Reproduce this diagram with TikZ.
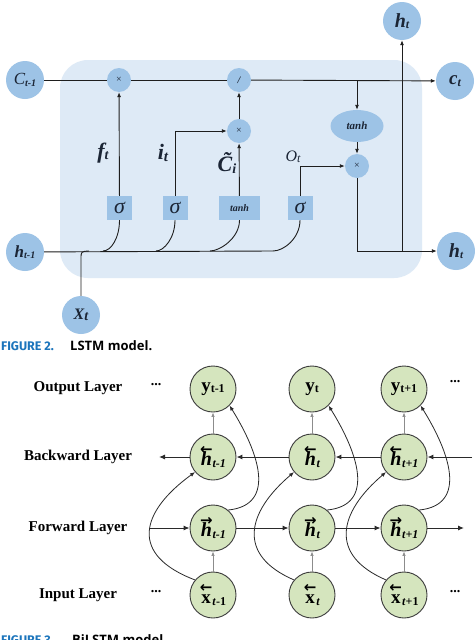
\documentclass[tikz,border=0pt]{standalone}
\usepackage{fontspec}
\setmainfont{Liberation Serif}
\newfontfamily\capfont{Fira Sans}
\newfontfamily\capfontb{Open Sans}
\newfontfamily\arrfont{DejaVu Sans}
\usetikzlibrary{arrows.meta,shapes.geometric}
\definecolor{bgblue}{HTML}{DEEAF6}
\definecolor{nodeblue}{HTML}{9DC3E6}
\definecolor{textdark}{HTML}{1B2535}
\definecolor{linedark}{HTML}{1E1E1E}
\definecolor{ggreen}{HTML}{D5E5BE}
\definecolor{gborder}{HTML}{3C3C3C}
\definecolor{gline}{HTML}{2A2A2A}
\definecolor{vgray}{HTML}{8C8C8C}
\definecolor{capblue}{HTML}{1C75BC}
\newcommand\lab[5]{{#3\fontsize{#1}{#1}\selectfont #4}{#3\fontsize{#2}{#2}\selectfont\raisebox{-1.5pt}{#5}}}
\newcommand\arrowover[2]{\ooalign{\hfil\raisebox{11.5pt}{\arrfont\bfseries\upshape\fontsize{15}{15}\selectfont #1}\hfil\cr\hfil#2\hfil\cr}}
\begin{document}
\begin{tikzpicture}[x=1pt,y=-1pt,
  bluecirc/.style={circle,fill=nodeblue,minimum size=38pt,inner sep=0pt,text=textdark},
  opcirc/.style={circle,fill=nodeblue,minimum size=24pt,inner sep=0pt,text=textdark,font=\fontsize{10}{10}\selectfont},
  gatebox/.style={rectangle,fill=nodeblue,minimum width=25pt,minimum height=24pt,inner sep=0pt,text=textdark},
  conn/.style={draw=linedark,line width=0.9pt},
  arr/.style={conn,-{Latex[length=5pt,width=4pt]}},
  glab/.style={text=textdark,inner sep=0pt},
  gcirc/.style={circle,draw=gborder,line width=0.9pt,fill=ggreen,minimum size=46pt,inner sep=0pt,text=black},
  harr/.style={draw=gline,line width=1pt,-{Latex[length=6pt,width=5pt]}},
  varr/.style={draw=vgray,line width=0.7pt,-{Latex[length=4.5pt,width=3.5pt]}},
  carr/.style={draw=gline,line width=0.8pt,-{Latex[length=5pt,width=4pt]}},
  layer/.style={font=\fontsize{15}{15}\selectfont\bfseries,inner sep=0pt},
  dots/.style={font=\fontsize{14}{14}\selectfont\bfseries,inner sep=0pt},
  capa/.style={anchor=base west,inner sep=0pt,font=\capfont\bfseries\fontsize{12.5}{12.5}\selectfont,text=capblue},
  capb/.style={anchor=base west,inner sep=0pt,font=\capfontb\bfseries\fontsize{13}{13}\selectfont,text=black}
]
\useasboundingbox (0,0) rectangle (474,640);
\fill[white] (0,0) rectangle (474,640);

% ---------------- LSTM ----------------
\fill[bgblue,rounded corners=28pt] (60,60) rectangle (422,278);

\node[bluecirc] (cprev) at (25,80) {\lab{17}{10}{\itshape}{C}{\bfseries t-1}};
\node[bluecirc] (hprev) at (25,252) {\lab{17}{10}{\bfseries\itshape}{h}{t-1}};
\node[bluecirc] (xt) at (81,315) {\lab{16}{14}{\bfseries\itshape}{X}{t}};
\node[bluecirc] (htop) at (402,21) {\lab{20}{12}{\bfseries\itshape}{h}{t}};
\node[bluecirc] (ct) at (455,81) {\lab{19}{12}{\bfseries\itshape}{c}{t}};
\node[bluecirc] (hout) at (456,251) {\lab{20}{11}{\bfseries\itshape}{h}{t}};

\node[opcirc] (mult1) at (119,80) {×};
\node[opcirc] (plus) at (239,80) {\itshape\bfseries /};
\node[opcirc] (mult2) at (239,131) {×};
\node[opcirc] (mult3) at (357,166) {×};
\node[ellipse,fill=nodeblue,minimum width=53pt,minimum height=32pt,inner sep=0pt,text=textdark,
      font=\fontsize{11}{11}\selectfont\bfseries\itshape] (tanh2) at (357,126) {tanh};

\node[gatebox,font=\fontsize{22}{22}\selectfont\itshape] (s1) at (119.5,208) {σ};
\node[gatebox,font=\fontsize{22}{22}\selectfont\itshape] (s2) at (175,208) {σ};
\node[gatebox,minimum width=41pt,font=\fontsize{10}{10}\selectfont\bfseries\itshape] (tb) at (239.5,208) {tanh};
\node[gatebox,font=\fontsize{22}{22}\selectfont\itshape] (s4) at (300,208) {σ};

\node[glab] (lf) at (103,153) {\lab{22}{14}{\bfseries\itshape}{f}{t}};
\node[glab] (li) at (163,153) {\lab{22}{15}{\bfseries\itshape}{i}{t}};
\node[glab] (lc) at (227,163) {\lab{22}{14}{\bfseries\itshape}{\~{C}}{i}};
\node[glab] (lo) at (293,157) {\lab{16}{12}{\itshape}{O}{t}};

% cell state line
\coordinate (br) at (357,80);
\coordinate (j1) at (402,251);
\draw[conn] (cprev) -- (mult1);
\draw[conn] (mult1) -- (plus);
\draw[arr] (plus) -- (ct);
\draw[arr] (br) -- (tanh2);
\draw[arr] (tanh2) -- (mult3);
\draw[arr] (j1) -- (htop);
\draw[arr] (mult3) |- (hout);

% gates
\draw[arr] (s1) -- (mult1);
\draw[arr] (s2) |- (mult2);
\draw[arr] (tb) -- (mult2);
\draw[arr] (mult2) -- (plus);
\draw[arr] (s4) |- (mult3);

% input line
\coordinate (m1) at (103,251);
\coordinate (m2) at (156,251);
\coordinate (m3) at (210,251);
\coordinate (m4) at (273,251);
\draw[conn] (hprev) -- (m4);
\draw[conn] (s1.south) .. controls (119.5,238) and (111,251) .. (m1);
\draw[conn] (s2.south) .. controls (175,238) and (164,251) .. (m2);
\draw[conn] (tb.south) .. controls (239.5,238) and (220,251) .. (m3);
\draw[conn] (s4.south) .. controls (300,238) and (284,251) .. (m4);
\coordinate (xk) at (81,259);
\coordinate (xj) at (89,251);
\draw[conn] (xt) -- (xk) .. controls (81,251.5) .. (xj);

% caption
\node[capa] (cap2a) at (1,350) {FIGURE 2.};
\node[capb] (cap2b) at (70,350) {LSTM model.};

% ---------------- BiLSTM ----------------
\node[layer] (lout) at (78,388) {Output Layer};
\node[layer] (lback) at (78,457) {Backward Layer};
\node[layer] (lfwd) at (78,528) {Forward Layer};
\node[layer] (lin) at (78,595) {Input Layer};
\node[dots] (d1) at (156,385) {...};
\node[dots] (d2) at (455,382) {...};
\node[dots] (d3) at (156,592) {...};
\node[dots] (d4) at (455,592) {...};

\node[gcirc] (yA) at (213,389) {\lab{19}{12}{\bfseries}{y}{t-1}};
\node[gcirc] (yB) at (312,389) {\lab{19}{12}{\bfseries}{y}{t}};
\node[gcirc] (yC) at (404,389) {\lab{19}{12}{\bfseries}{y}{t+1}};
\node[gcirc] (bA) at (213,457) {\lab{20}{12}{\bfseries\itshape}{\arrowover{←}{h}}{t-1}};
\node[gcirc] (bB) at (312,457) {\lab{20}{12}{\bfseries\itshape}{\arrowover{←}{h}}{t}};
\node[gcirc] (bC) at (404,457) {\lab{20}{12}{\bfseries\itshape}{\arrowover{←}{h}}{t+1}};
\node[gcirc] (fA) at (213,528) {\lab{20}{12}{\bfseries\itshape}{\arrowover{→}{h}}{t-1}};
\node[gcirc] (fB) at (312,528) {\lab{20}{12}{\bfseries\itshape}{\arrowover{→}{h}}{t}};
\node[gcirc] (fC) at (404,528) {\lab{20}{12}{\bfseries\itshape}{\arrowover{→}{h}}{t+1}};
\node[gcirc] (iA) at (213,595) {\lab{19}{12}{\bfseries}{\arrowover{←}{x}}{\textit{t}-1}};
\node[gcirc] (iB) at (312,595) {\lab{19}{12}{\bfseries}{\arrowover{←}{x}}{\textit{t}}};
\node[gcirc] (iC) at (404,595) {\lab{19}{12}{\bfseries}{\arrowover{←}{x}}{\textit{t}+1}};

\coordinate (bR) at (472,457);
\coordinate (bL) at (159,457);
\coordinate (fL) at (150,528);
\coordinate (fR) at (464,528);
\draw[harr] (bR) -- (bC);
\draw[harr] (bC) -- (bB);
\draw[harr] (bB) -- (bA);
\draw[harr] (bA) -- (bL);
\draw[harr] (fL) -- (fA);
\draw[harr] (fA) -- (fB);
\draw[harr] (fB) -- (fC);
\draw[harr] (fC) -- (fR);

\foreach \n in {A,B,C}{
  \draw[varr] (b\n) -- (y\n);
  \draw[varr] (i\n) -- (f\n);
  \draw[carr] (f\n.50) .. controls +(50,-5) and +(28,45) .. (y\n.315);
}
\draw[carr] (iA.140) .. controls +(-66,-25) and +(-55,40) .. (bA.220);
\draw[carr] (iB.140) .. controls +(-58,-25) and +(-47,40) .. (bB.220);
\draw[carr] (iC.140) .. controls +(-58,-25) and +(-47,40) .. (bC.220);

% bottom caption (cut off at the lower edge, as in the reference)
\node[capa] (cap3a) at (1,644) {FIGURE 3.};
\node[capb] (cap3b) at (72,644) {BiLSTM model.};
\end{tikzpicture}
\end{document}
